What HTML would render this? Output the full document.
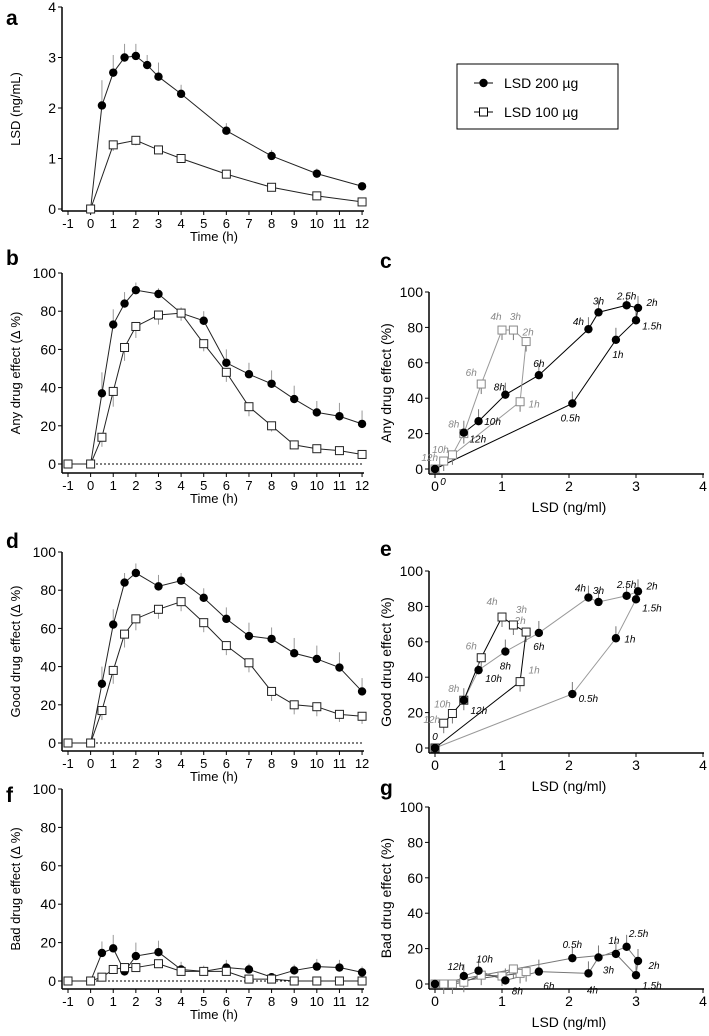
<!DOCTYPE html>
<html><head><meta charset="utf-8"><style>
html,body{margin:0;padding:0;background:#fff;}
svg{display:block;font-family:"Liberation Sans",Arial,sans-serif;}
</style></head><body>
<svg id="fig" width="709" height="1036" viewBox="0 0 709 1036"></svg>
<script>
// ---- data ----
const tA200=[0,0.5,1,1.5,2,2.5,3,4,6,8,10,12];
const cA200=[0,2.05,2.7,3.0,3.03,2.85,2.62,2.28,1.55,1.05,0.7,0.45];
const eA200=[0,0.5,0.35,0.27,0.24,0.2,0.28,0.18,0.15,0.12,0.1,0.05];
const tA100=[0,1,2,3,4,6,8,10,12];
const cA100=[0,1.27,1.36,1.17,1.0,0.69,0.43,0.26,0.14];
const eA100=[0,0.12,0.1,0.08,0.06,0.05,0.04,0.03,0.02];
const tE=[-1,0,0.5,1,1.5,2,3,4,5,6,7,8,9,10,11,12];
const any200=[0,0,37,73,84,91,89,79,75,53,47,42,34,27,25,21];
const anyErr200=[0,0,11,8,6,4,3,3,5,7,6,7,7,6,7,7];
const any100=[0,0,14,38,61,72,78,79,63,48,30,20,10,8,7,5];
const anyErr100=[0,0,5,8,7,6,5,4,4,5,5,3,2,2,2,2];
const good200=[0,0,31,62,84,89,82,85,76,65,56,54.5,47,44,39.5,27];
const goodErr200=[0,0,9,8,5,5,6,4,5,6,7,6,8,7,8,7];
const good100=[0,0,17,38,57,65,70,74,63,51,42,27,20,19,15,14];
const goodErr100=[0,0,5,7,7,6,5,5,5,5,5,5,5,5,4,4];
const bad200=[0,0,14.6,17,5,13,15,6,5,7,6,2,5.5,7.5,7,4.5];
const badErr200=[0,0,6,7,2,7,6,4,3,4,3,2,3,4,4,3];
const bad100=[0,0,2,6,7,7,9,5,5,5,1,1,0,0,0,0];
const badErr100=[0,0,1,2,2,2,2,2,1,2,1,1,0,0,0,0];
// hysteresis (concentration vs effect), time-ordered
const hLab200=["0","0.5h","1h","1.5h","2h","2.5h","3h","4h","6h","8h","10h","12h"];
const hConc200=[0,2.05,2.7,3.0,3.03,2.86,2.44,2.29,1.55,1.05,0.65,0.43];
const hAny200=[0,37,73,84,91,92.5,88.5,79,53,42,27,20.5];
const hGood200=[0,30.5,62,84,88.5,86,82.5,85,65,54.5,44,27];
const hBad200=[0,14.6,17,5,13,21,15,6,7,2,7.5,4.5];
const hLab100=["0","1h","2h","3h","4h","6h","8h","10h","12h"];
const hConc100=[0,1.27,1.36,1.17,1.0,0.69,0.43,0.26,0.13];
const hAny100=[0,38,72,78.5,78.5,48,20,8,4.5];
const hGood100=[0,37.5,65.5,69.5,74,51,27,19.5,14];
const hBad100=[0,6,7,8.5,4.5,5,1,0,0];

const NS="http://www.w3.org/2000/svg";
const svg=document.getElementById('fig');
function mk(tag,attrs,parent,text){const e=document.createElementNS(NS,tag);for(const k in attrs)e.setAttribute(k,attrs[k]);if(text!==undefined)e.textContent=text;(parent||svg).appendChild(e);return e;}
function grp(name){const g=mk('g',{});


return g;}

function marker(g,x,y,type){
  let m;
  if(type==='c'){m=mk('circle',{cx:x,cy:y,r:4.2,fill:'#000'},g);}
  else{m=mk('rect',{x:x-4,y:y-4,width:8,height:8,fill:'#fff',stroke:type==='sg'?'#888':'#222','stroke-width':1},g);}
  
  
}

// ---- time panels ----
function timePanel(o){
  const g=grp(o.name);
  const X=t=>68+(t+1)*22.62;
  const Y=v=>o.y0-(v/o.ymax)*(o.y0-o.ytop);
  mk('line',{x1:62,y1:o.ytop,x2:62,y2:o.axisY,stroke:'#000','stroke-width':1.5},g);
  mk('line',{x1:62,y1:o.axisY,x2:364,y2:o.axisY,stroke:'#000','stroke-width':1.5},g);
  for(let t=-1;t<=12;t++){mk('line',{x1:X(t),y1:o.axisY,x2:X(t),y2:o.axisY+4,stroke:'#000'},g);
    mk('text',{x:X(t),y:o.axisY+17,'text-anchor':'middle','font-size':13},g,String(t));}
  mk('text',{x:214,y:o.axisY+30,'text-anchor':'middle','font-size':13},g,'Time (h)');
  o.yt.forEach(v=>{mk('line',{x1:58,y1:Y(v),x2:62,y2:Y(v),stroke:'#000'},g);
    mk('text',{x:56,y:Y(v)+5,'text-anchor':'end','font-size':14},g,String(v));});
  const cy=(o.ytop+o.axisY)/2;
  mk('text',{x:20,y:cy,'text-anchor':'middle','font-size':13,transform:`rotate(-90 20 ${cy})`},g,o.ylabel);
  mk('text',{x:6,y:o.ly,'font-size':21,'font-weight':'bold'},g,o.letter);
  if(o.dotted)mk('line',{x1:X(-1),y1:Y(0),x2:X(12),y2:Y(0),stroke:'#000','stroke-dasharray':'2,2','stroke-width':1},g);
  o.t2.forEach((t,i)=>{if(o.e2[i])mk('line',{x1:X(t),y1:Y(o.v2[i]),x2:X(t),y2:Y(o.v2[i]+o.e2[i]),stroke:'#999','stroke-width':1},g);});
  o.t1.forEach((t,i)=>{if(o.e1[i])mk('line',{x1:X(t),y1:Y(o.v1[i]),x2:X(t),y2:Y(o.v1[i]-o.e1[i]),stroke:'#999','stroke-width':1},g);});
  mk('polyline',{points:o.t2.map((t,i)=>X(t)+','+Y(o.v2[i])).join(' '),fill:'none',stroke:'#222','stroke-width':1},g);
  mk('polyline',{points:o.t1.map((t,i)=>X(t)+','+Y(o.v1[i])).join(' '),fill:'none',stroke:'#222','stroke-width':1},g);
  o.t2.forEach((t,i)=>marker(g,X(t),Y(o.v2[i]),'c'));
  o.t1.forEach((t,i)=>marker(g,X(t),Y(o.v1[i]),'s'));
}
timePanel({name:'panel-a',letter:'a',ly:25,ytop:7,y0:209,axisY:211,ymax:4,yt:[0,1,2,3,4],ylabel:'LSD (ng/mL)',
  t2:tA200,v2:cA200,e2:eA200,t1:tA100,v1:cA100,e1:eA100});
timePanel({name:'panel-b',letter:'b',ly:265,ytop:273,y0:464,axisY:473,ymax:100,yt:[0,20,40,60,80,100],ylabel:'Any drug effect (\u0394 %)',dotted:1,
  t2:tE,v2:any200,e2:anyErr200,t1:tE,v1:any100,e1:anyErr100});
timePanel({name:'panel-d',letter:'d',ly:548,ytop:552,y0:743,axisY:751,ymax:100,yt:[0,20,40,60,80,100],ylabel:'Good drug effect (\u0394 %)',dotted:1,
  t2:tE,v2:good200,e2:goodErr200,t1:tE,v1:good100,e1:goodErr100});
timePanel({name:'panel-f',letter:'f',ly:802,ytop:789,y0:981,axisY:989,ymax:100,yt:[0,20,40,60,80,100],ylabel:'Bad drug effect (\u0394 %)',dotted:1,
  t2:tE,v2:bad200,e2:badErr200,t1:tE,v1:bad100,e1:badErr100});

// ---- hysteresis panels ----
const offC200={"0":[8,12],"0.5h":[-2,14],"1h":[2,14],"1.5h":[16,5],"2h":[14,-6],"2.5h":[0,-10],"3h":[0,-12],"4h":[-10,-8],"6h":[0,-12],"8h":[-6,-8],"10h":[14,0],"12h":[14,6]};
const offC100={"1h":[14,2],"2h":[2,-10],"3h":[2,-14],"4h":[-6,-14],"6h":[-10,-12],"8h":[-10,-10],"10h":[-12,-6],"12h":[-14,-4]};
const offE200={"0":[0,-12],"0.5h":[16,4],"1h":[14,0],"1.5h":[16,8],"2h":[14,-6],"2.5h":[0,-12],"3h":[0,-12],"4h":[-8,-10],"6h":[0,13],"8h":[0,14],"10h":[15,8],"12h":[15,10]};
const offE100={"1h":[14,-12],"2h":[-6,-12],"3h":[8,-16],"4h":[-10,-16],"6h":[-10,-12],"8h":[-10,-12],"10h":[-10,-10],"12h":[-12,-4]};
const offG200={"0.5h":[0,-14],"1h":[-2,-14],"1.5h":[16,10],"2h":[16,4],"2.5h":[12,-14],"3h":[10,12],"4h":[4,16],"6h":[10,14],"8h":[12,10],"10h":[6,-12],"12h":[-8,-10]};
function hystPanel(o){
  const g=grp(o.name);
  const X=c=>435+c*67;
  const Y=v=>o.y0-(v/100)*177;
  const top=o.y0-177, axisY=o.y0+5;
  mk('line',{x1:429,y1:top,x2:429,y2:axisY,stroke:'#000','stroke-width':1.5},g);
  mk('line',{x1:429,y1:axisY,x2:704,y2:axisY,stroke:'#000','stroke-width':1.5},g);
  for(let k=0;k<=4;k++){mk('line',{x1:X(k),y1:axisY,x2:X(k),y2:axisY+4,stroke:'#000'},g);
    mk('text',{x:X(k),y:axisY+17,'text-anchor':'middle','font-size':14},g,String(k));}
  mk('text',{x:569,y:axisY+38,'text-anchor':'middle','font-size':14},g,'LSD (ng/ml)');
  [0,20,40,60,80,100].forEach(v=>{mk('line',{x1:425,y1:Y(v),x2:429,y2:Y(v),stroke:'#000'},g);
    mk('text',{x:423,y:Y(v)+5,'text-anchor':'end','font-size':14},g,String(v));});
  const cy=(top+axisY)/2;
  mk('text',{x:391,y:cy,'text-anchor':'middle','font-size':14,transform:`rotate(-90 391 ${cy})`},g,o.ylabel);
  mk('text',{x:380,y:o.ly,'font-size':21,'font-weight':'bold'},g,o.letter);
  mk('polyline',{points:hConc200.map((c,i)=>X(c)+','+Y(o.v200[i])).join(' '),fill:'none',stroke:o.col200,'stroke-width':1},g);
  mk('polyline',{points:hConc100.map((c,i)=>X(c)+','+Y(o.v100[i])).join(' '),fill:'none',stroke:o.col100,'stroke-width':1},g);
  hConc200.forEach((c,i)=>{if(i>0)mk('line',{x1:X(c),y1:Y(o.v200[i]),x2:X(c),y2:Y(o.v200[i])-12,stroke:'#777'},g);});
  hConc100.forEach((c,i)=>{if(i>0)mk('line',{x1:X(c),y1:Y(o.v100[i]),x2:X(c),y2:Y(o.v100[i])+10,stroke:'#777'},g);});
  hConc100.forEach((c,i)=>{marker(g,X(c),Y(o.v100[i]),o.col100==='#000'?'s':'sg');
    const of=o.off100&&o.off100[hLab100[i]];
    if(of)mk('text',{x:X(c)+of[0],y:Y(o.v100[i])+of[1]+4,'text-anchor':'middle','font-size':10,'font-style':'italic',fill:'#888'},g,hLab100[i]);});
  hConc200.forEach((c,i)=>{marker(g,X(c),Y(o.v200[i]),'c');
    const of=o.off200[hLab200[i]];
    if(of)mk('text',{x:X(c)+of[0],y:Y(o.v200[i])+of[1]+4,'text-anchor':'middle','font-size':10,'font-style':'italic',fill:'#000'},g,hLab200[i]);});
}
hystPanel({name:'panel-c',letter:'c',ly:268,y0:469,ylabel:'Any drug effect (%)',v200:hAny200,v100:hAny100,col200:'#000',col100:'#999',off200:offC200,off100:offC100});
hystPanel({name:'panel-e',letter:'e',ly:556,y0:748,ylabel:'Good drug effect (%)',v200:hGood200,v100:hGood100,col200:'#999',col100:'#000',off200:offE200,off100:offE100});
hystPanel({name:'panel-g',letter:'g',ly:795,y0:984,ylabel:'Bad drug effect (%)',v200:hBad200,v100:hBad100,col200:'#777',col100:'#555',off200:offG200,off100:null});

// ---- legend ----
const lg=grp('legend');
mk('rect',{x:457,y:64,width:161,height:65,fill:'#fff',stroke:'#000','stroke-width':1},lg);
const e1=grp('legend-entry-200');lg.appendChild(e1);
mk('line',{x1:474,y1:83,x2:493,y2:83,stroke:'#000'},e1);
mk('circle',{cx:483.5,cy:83,r:4.2,fill:'#000'},e1);
mk('text',{x:504,y:88,'font-size':14},e1,'LSD 200 \u00b5g');
const e2=grp('legend-entry-100');lg.appendChild(e2);
mk('line',{x1:474,y1:112,x2:493,y2:112,stroke:'#000'},e2);
mk('rect',{x:479.5,y:108,width:8,height:8,fill:'#fff',stroke:'#000'},e2);
mk('text',{x:504,y:117,'font-size':14},e2,'LSD 100 \u00b5g');
</script>
</body></html>
